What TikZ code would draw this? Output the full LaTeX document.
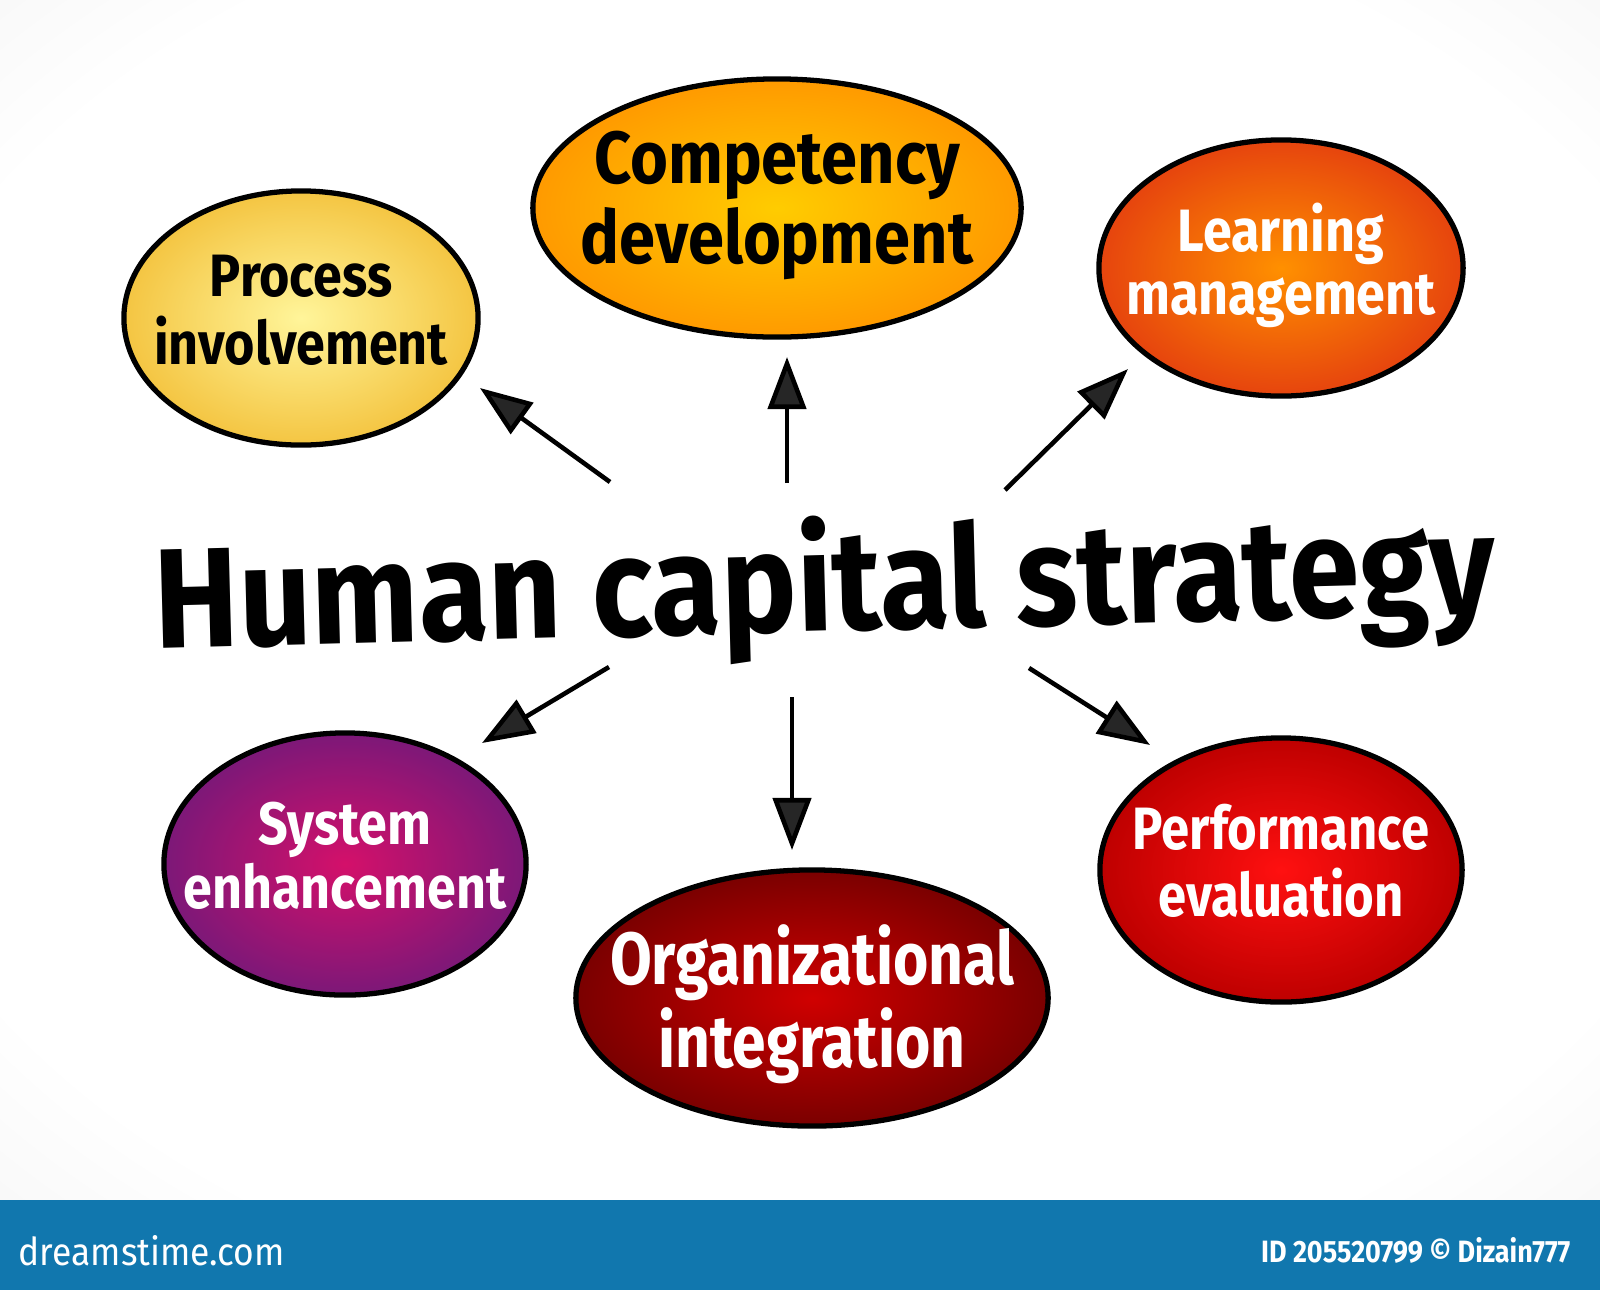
\documentclass[tikz,border=0pt]{standalone}
\usepackage{fontspec}
\setmainfont{Fira Sans}
\usetikzlibrary{shapes.geometric,arrows.meta}

\definecolor{barblue}{HTML}{1177AE}
\definecolor{procin}{HTML}{FFF59A}
\definecolor{procout}{HTML}{F4C542}
\definecolor{compin}{HTML}{FFCC00}
\definecolor{compout}{HTML}{FF9A00}
\definecolor{learnin}{HTML}{FF9000}
\definecolor{learnout}{HTML}{E6440E}
\definecolor{sysin}{HTML}{D4106A}
\definecolor{sysout}{HTML}{7C1878}
\definecolor{orgin}{HTML}{D00000}
\definecolor{orgout}{HTML}{7A0000}
\definecolor{perfin}{HTML}{FF1010}
\definecolor{perfout}{HTML}{BE0000}

\pgfdeclareradialshading{bgshade}{\pgfpoint{0bp}{0bp}}{color(0bp)=(white); color(30bp)=(white); color(50bp)=(black!9); color(72bp)=(black!13)}

% two lines of bubble text, squeezed sideways
\newcommand{\bubtxt}[3]{\scalebox{#1}[1]{\begin{tabular}{@{}c@{}}#2\\#3\end{tabular}}}

\tikzset{
  bubble/.style={ellipse, draw=black, line width=1.5pt, inner sep=0pt},
  bubtext/.style={font=\bfseries\fontsize{17}{18}\selectfont},
  arr/.style={line width=1.3pt, -{Triangle[length=5.2mm,width=3.8mm,fill=black!85]}},
}

\begin{document}
\begin{tikzpicture}[x=0.01cm, y=-0.01cm]
  \useasboundingbox (0,0) rectangle (1600,1290);

  % background and bottom bar
  \shade[shading=bgshade] (0,0) rectangle (1600,1200);
  \fill[barblue] (0,1200) rectangle (1600,1290);

  % title
  \node[anchor=base, rotate=1.5, inner sep=0pt] (title) at (826,631)
    {\resizebox{13.4cm}{1.15cm}{\bfseries Human capital strategy}};

  % bubbles
  \node[bubble, minimum width=3.54cm, minimum height=2.54cm,
        inner color=procin, outer color=procout,
        label={[bubtext]center:{\bubtxt{0.87}{Process}{involvement}}}] (proc) at (301,318) {};
  \node[bubble, minimum width=4.88cm, minimum height=2.58cm,
        inner color=compin, outer color=compout,
        label={[bubtext, font=\bfseries\fontsize{21}{22}\selectfont]center:{\bubtxt{0.88}{Competency}{development}}}] (comp) at (777,208) {};
  \node[bubble, minimum width=3.64cm, minimum height=2.56cm,
        inner color=learnin, outer color=learnout,
        label={[bubtext, text=white]center:{\bubtxt{0.87}{Learning}{management}}}] (learn) at (1281,268) {};
  \node[bubble, minimum width=3.62cm, minimum height=2.62cm,
        inner color=sysin, outer color=sysout,
        label={[bubtext, text=white]center:{\bubtxt{0.87}{System}{enhancement}}}] (sys) at (345,864) {};
  \node[bubble, minimum width=4.72cm, minimum height=2.56cm,
        inner color=orgin, outer color=orgout,
        label={[bubtext, text=white, yshift=-0.1cm, font=\bfseries\fontsize{21}{22}\selectfont]center:{\bubtxt{0.82}{Organizational}{integration}}}] (org) at (812,998) {};
  \node[bubble, minimum width=3.62cm, minimum height=2.64cm,
        inner color=perfin, outer color=perfout,
        label={[bubtext, text=white]center:{\bubtxt{0.85}{Performance}{evaluation}}}] (perf) at (1281,870) {};

  % arrow ends
  \coordinate (t1) at (610,482);  \coordinate (h1) at (480,388);
  \coordinate (t2) at (787,483);  \coordinate (h2) at (787,357);
  \coordinate (t3) at (1005,490); \coordinate (h3) at (1128,369);
  \coordinate (t4) at (609,667);  \coordinate (h4) at (482,743);
  \coordinate (t5) at (792,697);  \coordinate (h5) at (792,850);
  \coordinate (t6) at (1029,668); \coordinate (h6) at (1150,745);
  \foreach \i in {1,...,6}
    \draw[arr] (t\i) -- (h\i);

  % footer
  \node[anchor=base west, inner sep=0pt, text=white] (site) at (18,1265)
    {\resizebox{2.66cm}{0.3cm}{dreamstime.com}};
  \node[anchor=base east, inner sep=0pt, text=white] (credit) at (1571,1262)
    {\resizebox{3.09cm}{0.25cm}{\bfseries ID 205520799 © Dizain777}};
\end{tikzpicture}
\end{document}
